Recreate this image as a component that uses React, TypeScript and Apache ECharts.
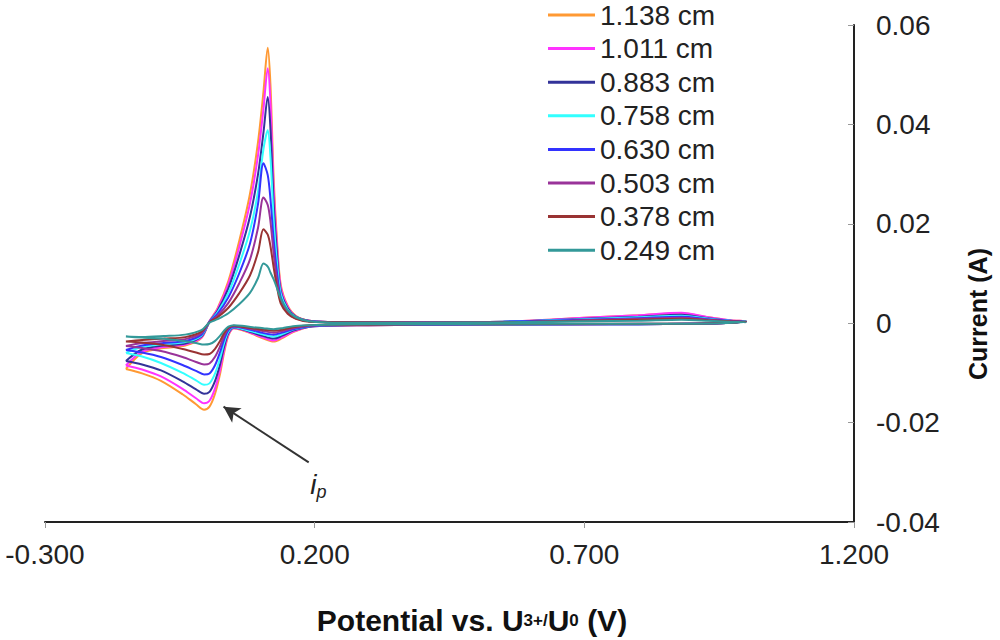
import React, { useEffect, useRef } from "react";
import * as echarts from "echarts";

// Potential grids (V) for the anodic (forward) and cathodic (reverse) sweeps
const E_FWD = [-0.15, -0.12, -0.08, -0.04, -0.01, 0.005, 0.02, 0.04, 0.06, 0.08, 0.095, 0.105, 0.113, 0.118, 0.124, 0.13, 0.137, 0.15, 0.165, 0.19, 0.25, 0.4, 0.55, 0.7, 0.8, 0.88, 0.93, 0.97, 1.0];
const E_REV = [1.0, 0.95, 0.9, 0.8, 0.7, 0.55, 0.4, 0.3, 0.22, 0.19, 0.16, 0.14, 0.124, 0.105, 0.085, 0.065, 0.05, 0.04, 0.032, 0.024, 0.015, 0.005, -0.005, -0.02, -0.045, -0.085, -0.12, -0.15];

const LABELS = ["1.138 cm", "1.011 cm", "0.883 cm", "0.758 cm", "0.630 cm", "0.503 cm", "0.378 cm", "0.249 cm"];
const COLORS = ["#FF9933", "#FF33FF", "#333399", "#33FFFF", "#3333FF", "#993399", "#993333", "#339999"];

// Current (A), forward sweep
const FWD_1138 = [-0.0092, -0.0060, -0.0050, -0.0045, -0.0030, 0.0004, 0.0030, 0.0085, 0.0165, 0.0260, 0.0365, 0.0465, 0.0554, 0.0480, 0.0290, 0.0170, 0.0078, 0.0035, 0.0015, 0.0005, 0.0002, 0.0002, 0.0003, 0.0011, 0.0016, 0.0020, 0.0012, 0.0006, 0.0004];
const FWD_1011 = [-0.0085, -0.0057, -0.0048, -0.0043, -0.0029, 0.0004, 0.0028, 0.0079, 0.0153, 0.0241, 0.0338, 0.0431, 0.0513, 0.0445, 0.0270, 0.0158, 0.0073, 0.0033, 0.0014, 0.0005, 0.0002, 0.0002, 0.0003, 0.0011, 0.0016, 0.0021, 0.0012, 0.0006, 0.0004];
const FWD_0883 = [-0.0076, -0.0053, -0.0045, -0.0041, -0.0027, 0.0003, 0.0025, 0.0070, 0.0136, 0.0214, 0.0300, 0.0383, 0.0455, 0.0392, 0.0240, 0.0141, 0.0066, 0.0030, 0.0013, 0.0005, 0.0002, 0.0002, 0.0003, 0.0009, 0.0013, 0.0017, 0.0010, 0.0005, 0.0004];
const FWD_0758 = [-0.0060, -0.0048, -0.0042, -0.0038, -0.0025, 0.0003, 0.0022, 0.0061, 0.0118, 0.0186, 0.0265, 0.0350, 0.0388, 0.0335, 0.0208, 0.0124, 0.0060, 0.0027, 0.0012, 0.0004, 0.0002, 0.0002, 0.0003, 0.0008, 0.0012, 0.0015, 0.0009, 0.0005, 0.0004];
const FWD_0630 = [-0.0054, -0.0045, -0.0040, -0.0036, -0.0023, 0.0003, 0.0019, 0.0052, 0.0100, 0.0160, 0.0240, 0.0322, 0.0298, 0.0250, 0.0168, 0.0104, 0.0052, 0.0024, 0.0011, 0.0004, 0.0002, 0.0002, 0.0003, 0.0007, 0.0010, 0.0013, 0.0008, 0.0005, 0.0003];
const FWD_0503 = [-0.0046, -0.0040, -0.0036, -0.0032, -0.0020, 0.0002, 0.0015, 0.0041, 0.0080, 0.0128, 0.0192, 0.0253, 0.0238, 0.0205, 0.0140, 0.0088, 0.0045, 0.0021, 0.0010, 0.0004, 0.0002, 0.0002, 0.0002, 0.0006, 0.0009, 0.0011, 0.0007, 0.0004, 0.0003];
const FWD_0378 = [-0.0037, -0.0034, -0.0031, -0.0028, -0.0017, 0.0002, 0.0012, 0.0031, 0.0060, 0.0096, 0.0143, 0.0189, 0.0178, 0.0155, 0.0112, 0.0074, 0.0040, 0.0019, 0.0009, 0.0003, 0.0002, 0.0001, 0.0002, 0.0005, 0.0007, 0.0009, 0.0006, 0.0004, 0.0003];
const FWD_0249 = [-0.0027, -0.0028, -0.0026, -0.0023, -0.0014, 0.0001, 0.0008, 0.0020, 0.0038, 0.0061, 0.0091, 0.0120, 0.0114, 0.0102, 0.0088, 0.0071, 0.0050, 0.0026, 0.0012, 0.0004, 0.0001, 0.0001, 0.0002, 0.0004, 0.0005, 0.0007, 0.0005, 0.0003, 0.0002];

// Current (A), reverse sweep
const REV_1138 = [0.0004, 0.0000, -0.0001, -0.0002, -0.0002, -0.0003, -0.0003, -0.0004, -0.0005, -0.0007, -0.0018, -0.0030, -0.0037, -0.0031, -0.0022, -0.0014, -0.0010, -0.0025, -0.0060, -0.0105, -0.0143, -0.0168, -0.0174, -0.0163, -0.0143, -0.0116, -0.0101, -0.0092];
const REV_1011 = [0.0004, 0.0000, -0.0001, -0.0002, -0.0002, -0.0003, -0.0003, -0.0004, -0.0005, -0.0007, -0.0017, -0.0028, -0.0035, -0.0029, -0.0021, -0.0013, -0.0010, -0.0023, -0.0055, -0.0097, -0.0132, -0.0156, -0.0161, -0.0151, -0.0132, -0.0107, -0.0093, -0.0085];
const REV_0883 = [0.0003, 0.0000, -0.0001, -0.0002, -0.0002, -0.0003, -0.0003, -0.0004, -0.0005, -0.0007, -0.0015, -0.0025, -0.0031, -0.0026, -0.0019, -0.0012, -0.0009, -0.0020, -0.0048, -0.0085, -0.0117, -0.0138, -0.0142, -0.0133, -0.0117, -0.0095, -0.0083, -0.0076];
const REV_0758 = [0.0003, 0.0000, -0.0001, -0.0002, -0.0002, -0.0003, -0.0003, -0.0003, -0.0004, -0.0006, -0.0013, -0.0022, -0.0027, -0.0023, -0.0017, -0.0011, -0.0008, -0.0017, -0.0040, -0.0073, -0.0102, -0.0121, -0.0124, -0.0115, -0.0100, -0.0080, -0.0067, -0.0060];
const REV_0630 = [0.0003, 0.0000, -0.0001, -0.0002, -0.0002, -0.0002, -0.0003, -0.0003, -0.0004, -0.0006, -0.0012, -0.0019, -0.0023, -0.0020, -0.0014, -0.0009, -0.0007, -0.0014, -0.0033, -0.0060, -0.0085, -0.0101, -0.0103, -0.0096, -0.0084, -0.0068, -0.0059, -0.0054];
const REV_0503 = [0.0003, 0.0000, -0.0001, -0.0001, -0.0002, -0.0002, -0.0002, -0.0003, -0.0004, -0.0005, -0.0010, -0.0016, -0.0019, -0.0016, -0.0012, -0.0008, -0.0006, -0.0011, -0.0026, -0.0048, -0.0068, -0.0081, -0.0083, -0.0078, -0.0068, -0.0056, -0.0050, -0.0046];
const REV_0378 = [0.0002, 0.0000, -0.0001, -0.0001, -0.0001, -0.0002, -0.0002, -0.0003, -0.0003, -0.0004, -0.0008, -0.0013, -0.0015, -0.0013, -0.0010, -0.0007, -0.0005, -0.0009, -0.0020, -0.0037, -0.0052, -0.0062, -0.0063, -0.0059, -0.0052, -0.0043, -0.0039, -0.0037];
const REV_0249 = [0.0002, 0.0000, -0.0001, -0.0001, -0.0001, -0.0001, -0.0002, -0.0002, -0.0003, -0.0004, -0.0006, -0.0010, -0.0012, -0.0010, -0.0008, -0.0005, -0.0004, -0.0007, -0.0015, -0.0026, -0.0036, -0.0042, -0.0043, -0.0040, -0.0036, -0.0031, -0.0029, -0.0027];

const FWD = [FWD_1138, FWD_1011, FWD_0883, FWD_0758, FWD_0630, FWD_0503, FWD_0378, FWD_0249];
const REV = [REV_1138, REV_1011, REV_0883, REV_0758, REV_0630, REV_0503, REV_0378, REV_0249];

// Axis ranges / ticks
const X_MIN = -0.3, X_MAX = 1.2, X_STEP = 0.5;
const Y_MIN = -0.04, Y_MAX = 0.06, Y_STEP = 0.02;

// Annotation (peak current arrow) in data coordinates
const ARROW_TAIL = [0.189, -0.028];
const ARROW_HEAD = [0.031, -0.0168];
const IP_LABEL_POS = [0.207, -0.0325];

const X_TITLE = "{b|Potential vs. U}{s|3+/}{b|U}{s|0}{b| (V)}";
const Y_TITLE = "Current (A)";

const FONT = "'Liberation Sans', Arial, Helvetica, sans-serif";

export default function App() {
  const ref = useRef<HTMLDivElement>(null);
  useEffect(() => {
    if (!ref.current) return;
    const chart = echarts.init(ref.current, undefined, { renderer: "svg" });

    const series: any[] = LABELS.map((name, k) => {
      const data = E_FWD.map((e, i) => [e, FWD[k][i]]).concat(
        E_REV.map((e, i) => [e, REV[k][i]])
      );
      const s: any = {
        name,
        type: "line",
        data,
        symbol: "none",
        smooth: 0.3,
        lineStyle: { width: 2, color: COLORS[k] },
        itemStyle: { color: COLORS[k] },
        z: 2 + k,
      };
      if (k === LABELS.length - 1) {
        s.markLine = {
          silent: true,
          symbol: ["none", "arrow"],
          symbolSize: [13, 16],
          label: { show: false },
          lineStyle: { color: "#333", width: 2, type: "solid" },
          data: [[{ coord: ARROW_TAIL }, { coord: ARROW_HEAD }]],
          animation: false,
        };
        s.markPoint = {
          silent: true,
          symbol: "circle",
          symbolSize: 1,
          itemStyle: { color: "rgba(0,0,0,0)" },
          label: {
            show: true,
            position: "inside",
            formatter: "{i|i}{p|p}",
            rich: {
              i: { fontFamily: FONT, fontStyle: "italic", fontSize: 28, color: "#222" },
              p: { fontFamily: FONT, fontStyle: "italic", fontSize: 18, color: "#222", padding: [14, 0, 0, 0] },
            },
          },
          data: [{ coord: IP_LABEL_POS }],
          animation: false,
        };
      }
      return s;
    });

    chart.setOption({
      animation: false,
      backgroundColor: "#fff",
      grid: { left: 45, right: 146, top: 25, bottom: 118, containLabel: false, outerBoundsMode: "none" },
      legend: {
        orient: "vertical",
        left: 548,
        top: 1,
        padding: 0,
        icon: "rect",
        itemWidth: 47,
        itemHeight: 3,
        itemGap: 5.6,
        data: LABELS,
        textStyle: { fontFamily: FONT, fontSize: 28, color: "#222", lineHeight: 28 },
        selectedMode: false,
      },
      graphic: [
        {
          type: "text",
          silent: true,
          style: {
            x: 472,
            y: 620,
            text: X_TITLE,
            align: "center",
            verticalAlign: "middle",
            rich: {
              b: { fontFamily: FONT, fontSize: 30, fontWeight: "bold", fill: "#111", height: 34 },
              s: { fontFamily: FONT, fontSize: 17, fontWeight: "bold", fill: "#111", verticalAlign: "top", height: 34 },
            },
          },
        },
        {
          type: "text",
          silent: true,
          x: 978,
          y: 314,
          rotation: Math.PI / 2,
          style: {
            x: 0,
            y: 0,
            text: Y_TITLE,
            align: "center",
            verticalAlign: "middle",
            fontFamily: FONT,
            fontSize: 25,
            fontWeight: "bold",
            fill: "#111",
          },
        },
      ],
      xAxis: {
        type: "value",
        min: X_MIN,
        max: X_MAX,
        interval: X_STEP,
        position: "bottom",
        splitLine: { show: false },
        axisLine: { onZero: false, lineStyle: { color: "#222", width: 2 } },
        axisTick: { show: true, inside: false, length: 6, lineStyle: { color: "#999", width: 1 } },
        axisLabel: {
          margin: 18,
          fontFamily: FONT,
          fontSize: 28,
          color: "#222",
          formatter: (v: number) => v.toFixed(3),
        },
      },
      yAxis: {
        type: "value",
        min: Y_MIN,
        max: Y_MAX,
        interval: Y_STEP,
        position: "right",
        splitLine: { show: false },
        axisLine: { onZero: false, lineStyle: { color: "#222", width: 2 } },
        axisTick: { show: true, inside: true, length: 6, lineStyle: { color: "#999", width: 1 } },
        axisLabel: {
          margin: 22,
          fontFamily: FONT,
          fontSize: 28,
          color: "#222",
          formatter: (v: number) => (Math.abs(v) < 1e-9 ? "0" : v.toFixed(2)),
        },
      },
      series,
    });
    return () => chart.dispose();
  }, []);
  return <div ref={ref} style={{ width: 1000, height: 640, position: "absolute", left: 0, top: 0 }} />;
}
